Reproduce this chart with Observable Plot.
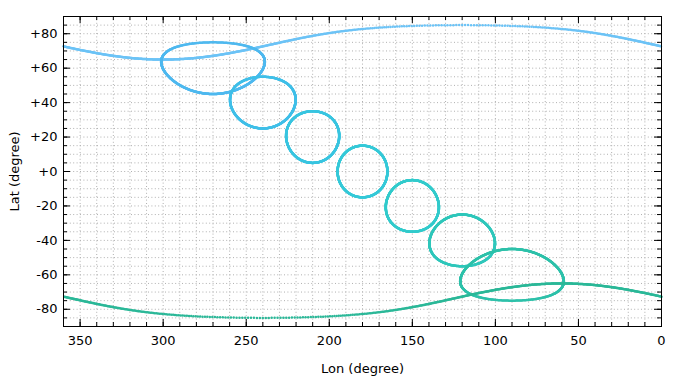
<!DOCTYPE html>
<html>
<head>
<meta charset="utf-8">
<script src="https://cdn.jsdelivr.net/npm/d3@7"></script>
<script src="https://cdn.jsdelivr.net/npm/@observablehq/plot@0.6"></script>
<style>
  html, body { margin: 0; padding: 0; background: #fff; }
  #chart { width: 685px; height: 379px; }
</style>
</head>
<body>
<div id="chart"></div>
<script>
// Circle centres (degrees), radii (degrees) and colours
const centerLon = [300, 270, 240, 210, 180, 150, 120, 90, 60];
const centerLat = [80, 60, 40, 20, 0, -20, -40, -60, -80];
const radiusDeg = [15, 15, 15, 15, 15, 15, 15, 15, 15];
const circleColors = ["#6cc3f6", "#4fb9ef", "#40bfe8", "#3ac5e0", "#36c9d8", "#33cbcc", "#30c7bb", "#2ec1aa", "#2bb898"];

// Axis ticks
const lonTicks = [350, 300, 250, 200, 150, 100, 50, 0];
const latTicks = [80, 60, 40, 20, 0, -20, -40, -60, -80];
const lonMinor = d3.range(0, 361, 10);
const latMinor = d3.range(-85, 90, 5);
const lonGrid = d3.range(10, 360, 10);
const latGrid = d3.range(-85, 90, 5);

// Build point table from the circles with d3's own geoCircle generator
const points = [];
centerLon.forEach((lon, i) => {
  const ring = d3.geoCircle().center([lon, centerLat[i]]).radius(radiusDeg[i]).precision(0.6)().coordinates[0];
  ring.forEach(([x, y]) => {
    points.push({lon: ((x % 360) + 360) % 360, lat: y, series: i});
  });
});

const W = 685, H = 379;
const mL = 63, mR = 24, mT = 16, mB = 53;
const innerW = W - mL - mR, innerH = H - mT - mB;

const chart = Plot.plot({
  width: W,
  height: H,
  marginLeft: mL,
  marginRight: mR,
  marginTop: mT,
  marginBottom: mB,
  style: {fontFamily: "DejaVu Sans", fontSize: "13px", background: "#fff", color: "#000"},
  x: {domain: [360, 0], ticks: lonTicks},
  y: {domain: [-90, 90], ticks: latTicks},
  marks: [
    // dotted grid
    Plot.ruleX(lonGrid, {x: d => d, stroke: "#b0b0b0", strokeDasharray: "1,2.4", strokeWidth: 1}),
    Plot.ruleY(latGrid, {y: d => d, stroke: "#b0b0b0", strokeDasharray: "1,2.4", strokeWidth: 1}),
    // data points
    Plot.dot(points, {x: "lon", y: "lat", r: 1.25, fill: d => circleColors[d.series], stroke: null}),
    // inward ticks: bottom / top
    Plot.tickX(lonMinor, {x: d => d, insetTop: innerH - 4, stroke: "#000"}),
    Plot.tickX(lonMinor, {x: d => d, insetBottom: innerH - 4, stroke: "#000"}),
    Plot.tickX(lonTicks, {x: d => d, insetTop: innerH - 7, stroke: "#000"}),
    Plot.tickX(lonTicks, {x: d => d, insetBottom: innerH - 7, stroke: "#000"}),
    // inward ticks: left / right
    Plot.tickY(latMinor, {y: d => d, insetRight: innerW - 4, stroke: "#000"}),
    Plot.tickY(latMinor, {y: d => d, insetLeft: innerW - 4, stroke: "#000"}),
    Plot.tickY(latTicks, {y: d => d, insetRight: innerW - 7, stroke: "#000"}),
    Plot.tickY(latTicks, {y: d => d, insetLeft: innerW - 7, stroke: "#000"}),
    // axes labels only
    Plot.axisX({anchor: "bottom", ticks: lonTicks, tickSize: 0, tickPadding: 9, label: null, fontSize: 13}),
    Plot.axisY({anchor: "left", ticks: latTicks, tickSize: 0, tickPadding: 6, label: null, fontSize: 13,
      tickFormat: d => (d >= 0 ? "+" : "") + d}),
    Plot.text(["Lon (degree)"], {frameAnchor: "bottom", dy: 42, text: d => d, fontSize: 13, lineAnchor: "middle"}),
    Plot.text(["Lat (degree)"], {frameAnchor: "left", dx: -49, rotate: -90, text: d => d, fontSize: 13, lineAnchor: "middle", textAnchor: "middle"}),
    Plot.frame({stroke: "#000", strokeWidth: 1})
  ]
});
document.getElementById("chart").appendChild(chart);
</script>
</body>
</html>
